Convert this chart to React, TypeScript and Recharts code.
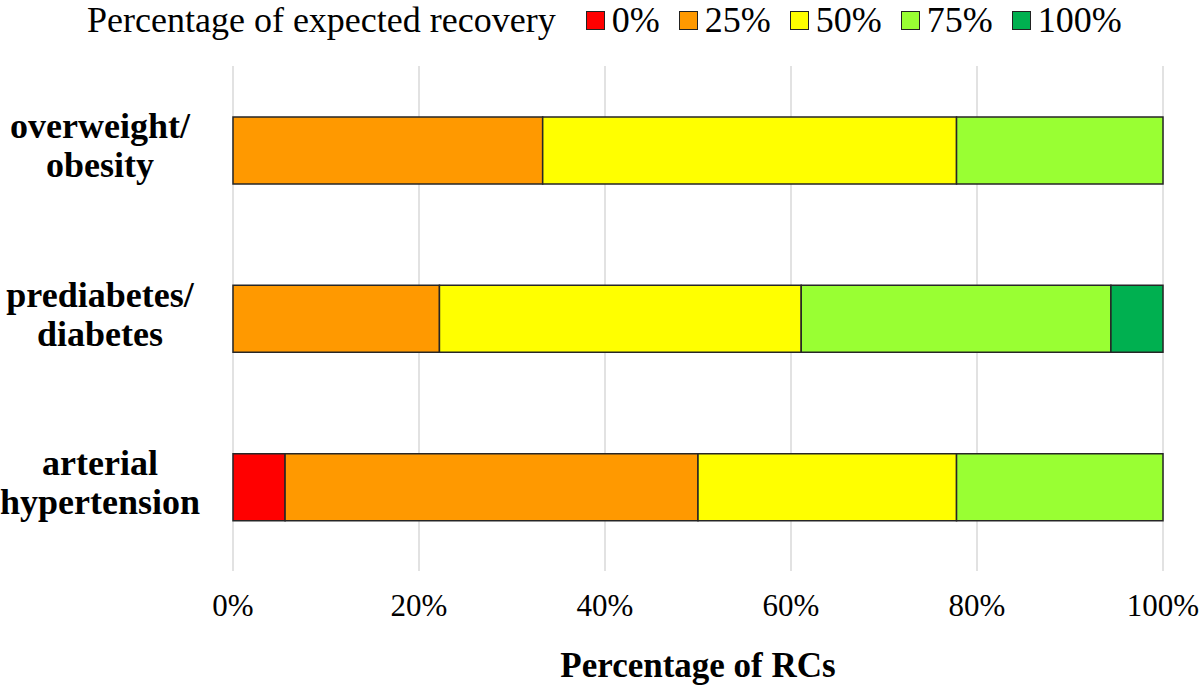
import { BarChart, Bar, XAxis, YAxis, CartesianGrid } from "recharts"

const categories = ["overweight/ obesity", "prediabetes/ diabetes", "arterial hypertension"]
const rec0 = [0, 0, 5.6]
const rec25 = [33.3, 22.2, 44.4]
const rec50 = [44.5, 38.9, 27.8]
const rec75 = [22.2, 33.3, 22.2]
const rec100 = [0, 5.6, 0]
const xTicks = [0, 20, 40, 60, 80, 100]

const seriesNames = ["0%", "25%", "50%", "75%", "100%"]
const seriesKeys = ["r0", "r25", "r50", "r75", "r100"]
const seriesColors = ["#FF0000", "#FF9900", "#FFFF00", "#99FF33", "#00B050"]

const font = "'Liberation Serif', 'Times New Roman', serif"

const data = categories.map((name, i) => ({
  name,
  r0: rec0[i],
  r25: rec25[i],
  r50: rec50[i],
  r75: rec75[i],
  r100: rec100[i],
}))

function CategoryTick(props: any) {
  const { x, y, payload } = props
  const lines = String(payload.value).split(" ")
  return (
    <text x={x - 125} y={y} textAnchor="middle" fontFamily={font} fontWeight="bold" fontSize={36} fill="#000">
      <tspan x={x - 125} dy={-12}>{lines[0]}</tspan>
      <tspan x={x - 125} dy={39}>{lines[1]}</tspan>
    </text>
  )
}

function TopLegend() {
  return (
    <div
      style={{
        position: "absolute",
        left: 87,
        top: 0,
        display: "flex",
        alignItems: "center",
        fontFamily: font,
        fontSize: 36,
        lineHeight: "40px",
        whiteSpace: "nowrap",
        color: "#000",
      }}
    >
      <span style={{ marginRight: 30 }}>Percentage of expected recovery</span>
      {seriesNames.map((n, i) => (
        <span key={n} style={{ display: "flex", alignItems: "center", marginRight: 19 }}>
          <span
            style={{
              display: "inline-block",
              width: 17,
              height: 17,
              background: seriesColors[i],
              border: "1.5px solid #222",
              marginRight: 7,
            }}
          />
          <span>{n}</span>
        </span>
      ))}
    </div>
  )
}

export default function App() {
  return (
    <div style={{ position: "absolute", left: 0, top: 0, width: 1200, height: 686, background: "#fff" }}>
      <BarChart
        width={1200}
        height={686}
        data={data}
        layout="vertical"
        margin={{ top: 66, right: 37, bottom: 35, left: 20 }}
      >
        <CartesianGrid horizontal={false} stroke="#d9d9d9" strokeWidth={1.5} />
        <XAxis
          type="number"
          domain={[0, 100]}
          ticks={xTicks}
          tickFormatter={(v) => `${v}%`}
          axisLine={false}
          tickLine={false}
          tickSize={6}
          tickMargin={17}
          height={80}
          tick={{ fontSize: 31, fill: "#000", fontFamily: font }}
          label={{
            value: "Percentage of RCs",
            position: "bottom",
            offset: 1,
            style: { fontSize: 35, fontWeight: "bold", fill: "#000", fontFamily: font },
          }}
        />
        <YAxis
          type="category"
          dataKey="name"
          width={213}
          axisLine={false}
          tickLine={false}
          tick={<CategoryTick />}
        />
        {seriesKeys.map((k, i) => (
          <Bar
            key={k}
            dataKey={k}
            name={seriesNames[i]}
            stackId="a"
            fill={seriesColors[i]}
            stroke="#262626"
            strokeWidth={1.5}
            barSize={67}
            isAnimationActive={false}
          />
        ))}
      </BarChart>
      <TopLegend />
    </div>
  )
}
